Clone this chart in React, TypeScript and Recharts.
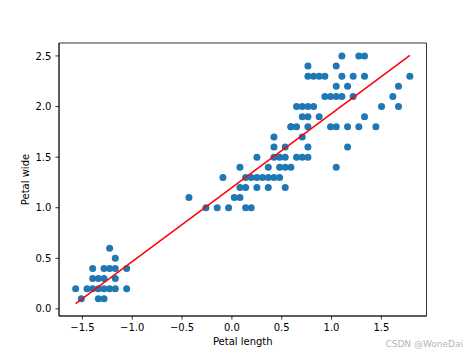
import React from 'react';
import { ScatterChart, Scatter, XAxis, YAxis, ReferenceArea } from 'recharts';

// Standardized petal length (x) and petal width (y)
const petalLength: number[] = [
  // cluster 1
  -1.340, -1.397, -1.283, -1.170, -1.340, -1.283, -1.227, -1.340, -1.511, -1.454, -1.283,
  -1.397, -1.170, -1.283, -1.170, -1.568, -1.170, -1.056, -1.227, -1.397, -1.227, -1.056,
  // cluster 2
  0.535, 0.422, 0.649, 0.138, 0.479, 0.422, 0.535, -0.260, 0.479, 0.081, -0.147, 0.251,
  0.138, -0.090, 0.365, 0.194, 0.081, 0.592, 0.535, 0.308, 0.592, 0.706, 0.024, -0.033,
  0.081, 0.763, 0.422, 0.535, 0.365, 0.194, 0.365, 0.479, 0.138, 0.251, 0.251, -0.431,
  // cluster 3
  1.274, 0.763, 1.217, 1.047, 1.161, 1.615, 0.422, 1.445, 1.161, 1.331, 0.763, 0.876,
  0.990, 0.706, 0.763, 0.876, 0.990, 1.672, 1.786, 0.706, 1.104, 0.649, 1.672, 0.649,
  1.104, 1.274, 0.592, 1.047, 1.161, 1.331, 1.502, 1.047, 0.763, 1.047, 1.331, 1.047,
  0.933, 0.763, 1.217, 1.104, 0.820, 0.706, 0.820, 0.933, 0.763,
];
const petalWidth: number[] = [
  0.2, 0.2, 0.2, 0.4, 0.3, 0.1, 0.2, 0.1, 0.1, 0.2, 0.4,
  0.4, 0.3, 0.3, 0.2, 0.2, 0.5, 0.2, 0.4, 0.3, 0.6, 0.4,
  1.4, 1.5, 1.5, 1.3, 1.5, 1.3, 1.6, 1.0, 1.3, 1.4, 1.0, 1.5,
  1.0, 1.3, 1.4, 1.0, 1.1, 1.8, 1.2, 1.3, 1.4, 1.7, 1.1, 1.0,
  1.2, 1.6, 1.6, 1.5, 1.3, 1.3, 1.2, 1.4, 1.2, 1.3, 1.2, 1.1,
  2.5, 1.9, 2.1, 1.8, 2.2, 2.1, 1.7, 1.8, 1.8, 2.5, 2.0, 1.9,
  2.1, 2.0, 2.4, 2.3, 1.8, 2.2, 2.3, 1.5, 2.3, 2.0, 2.0, 1.8,
  2.1, 1.8, 1.8, 2.1, 1.6, 1.9, 2.0, 2.2, 1.5, 1.4, 2.3, 2.4,
  2.1, 2.3, 2.3, 2.5, 2.3, 1.9, 2.0, 2.3, 1.8,
];

// Fitted line endpoints
const lineX: number[] = [-1.568, 1.786];
const lineY: number[] = [0.053, 2.506];

const xTicks: number[] = [-1.5, -1.0, -0.5, 0.0, 0.5, 1.0, 1.5];
const yTicks: number[] = [0.0, 0.5, 1.0, 1.5, 2.0, 2.5];

const points = petalLength.map((x, i) => ({ x, y: petalWidth[i] }));
const lineData = lineX.map((x, i) => ({ x, y: lineY[i] }));

const fmt = (v: number) => v.toFixed(1).replace('-', '\u2212');
const font = "'DejaVu Sans', sans-serif";
const tickStyle = { fill: '#000', fontSize: 10, fontFamily: font };
const axisStroke = { stroke: '#000', strokeWidth: 0.8 };

const Dot = (props: any) => {
  const { cx, cy } = props;
  if (cx == null || cy == null) return <g />;
  return <circle cx={cx} cy={cy} r={3.5} fill="#1f77b4" />;
};

export default function App() {
  const xDomain: [number, number] = [-1.735, 1.953];
  const yDomain: [number, number] = [-0.07, 2.628];
  return (
    <div style={{ position: 'absolute', left: 0, top: 0, width: 474, height: 355, background: '#fff' }}>
      <ScatterChart width={474} height={355} margin={{ top: 43, right: 47.5, bottom: 0, left: 0 }}>
        <XAxis
          type="number"
          dataKey="x"
          domain={xDomain}
          ticks={xTicks}
          allowDataOverflow
          height={39}
          tickSize={3.6}
          tickMargin={4}
          tickLine={axisStroke}
          axisLine={axisStroke}
          tick={tickStyle}
          tickFormatter={fmt}
          interval={0}
        />
        <YAxis
          type="number"
          dataKey="y"
          domain={yDomain}
          ticks={yTicks}
          allowDataOverflow
          width={59}
          tickSize={3.6}
          tickMargin={4}
          tickLine={axisStroke}
          axisLine={axisStroke}
          tick={tickStyle}
          tickFormatter={fmt}
          interval={0}
        />
        <ReferenceArea
          x1={xDomain[0]}
          x2={xDomain[1]}
          y1={yDomain[0]}
          y2={yDomain[1]}
          fill="none"
          fillOpacity={0}
          stroke="#000"
          strokeWidth={0.8}
          strokeOpacity={1}
          ifOverflow="visible"
        />
        <Scatter data={points} shape={Dot} isAnimationActive={false} />
        <Scatter
          data={lineData}
          line={{ stroke: '#ff0000', strokeWidth: 1.5 }}
          lineType="joint"
          shape={() => <g />}
          isAnimationActive={false}
        />
      </ScatterChart>
      <svg width={474} height={355} style={{ position: 'absolute', left: 0, top: 0, pointerEvents: 'none' }}>
        <text x={242.75} y={345} textAnchor="middle" fontSize={10} fontFamily={font} fill="#000">
          Petal length
        </text>
        <text
          x={0}
          y={0}
          transform="translate(29,179.5) rotate(-90)"
          textAnchor="middle"
          fontSize={10}
          fontFamily={font}
          fill="#000"
        >
          Petal wide
        </text>
        <text x={463} y={347} textAnchor="end" fontSize={9} fontFamily={font} fill="#b5b5b5">
          CSDN @WoneDai
        </text>
      </svg>
    </div>
  );
}
